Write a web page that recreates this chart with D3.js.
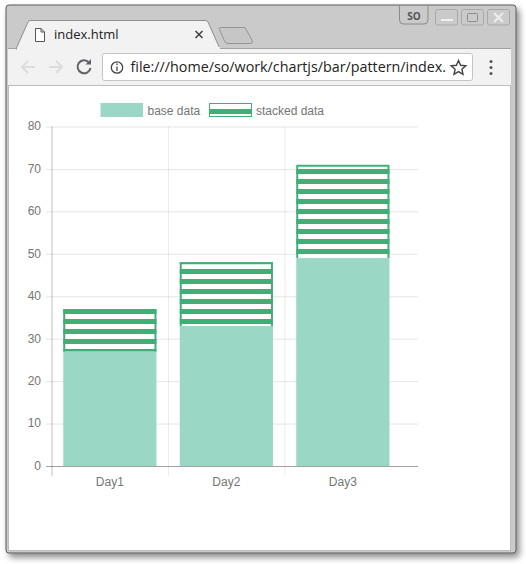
<!DOCTYPE html>
<html>
<head>
<meta charset="utf-8">
<script src="https://cdnjs.cloudflare.com/ajax/libs/d3/7.8.5/d3.min.js"></script>
<style>
html, body { margin: 0; padding: 0; background: #fff; overflow: hidden; }
svg { display: block; }
.chart text { font-family: "Liberation Sans", Arial, sans-serif; font-size: 12px; fill: #757575; }
.ui { font-family: "Open Sans", "Noto Sans", sans-serif; }
</style>
</head>
<body>
<script>
var days = ["Day1", "Day2", "Day3"];
var baseData = [27, 33, 49];
var stackedData = [10, 15, 22];
var legendLabels = ["base data", "stacked data"];
var yTicks = [0, 10, 20, 30, 40, 50, 60, 70, 80];
var pageTitle = "index.html";
var pageUrl = "file:///home/so/work/chartjs/bar/pattern/index.";

var baseColor = "#9bd7c5",
    stackColor = "#41ae76";

var svg = d3.select("body").append("svg")
    .attr("width", 526)
    .attr("height", 564);

var defs = svg.append("defs");

var shadow = defs.append("filter").attr("id", "shadow")
    .attr("x", "-5%").attr("y", "-5%").attr("width", "110%").attr("height", "110%");
shadow.append("feDropShadow")
    .attr("dx", 3).attr("dy", 4).attr("stdDeviation", 3)
    .attr("flood-color", "#000").attr("flood-opacity", 0.45);

// stripes, one fixed 10px grid for every bar
var stripes = defs.append("pattern").attr("id", "stripes")
    .attr("patternUnits", "userSpaceOnUse")
    .attr("width", 10).attr("height", 10)
    .attr("y", 9);
stripes.append("rect").attr("width", 10).attr("height", 10).attr("fill", "#fff");
stripes.append("rect").attr("width", 10).attr("height", 5).attr("fill", stackColor);

var legendStripes = defs.append("pattern").attr("id", "legendStripes")
    .attr("patternUnits", "userSpaceOnUse")
    .attr("width", 10).attr("height", 10)
    .attr("y", 109);
legendStripes.append("rect").attr("width", 10).attr("height", 10).attr("fill", "#fff");
legendStripes.append("rect").attr("width", 10).attr("height", 5).attr("fill", stackColor);

drawWindow();

// chart
var x = d3.scaleBand()
    .domain(days)
    .range([51.6, 401.1])
    .paddingInner(0.2)
    .paddingOuter(0.1);

var y = d3.scaleLinear()
    .domain([0, 80])
    .range([466, 126.5]);

var chart = svg.append("g").attr("class", "chart");

var yAxis = chart.append("g")
    .attr("transform", "translate(52,0)")
    .call(d3.axisLeft(y).tickValues(yTicks).tickSize(6).tickPadding(5).tickFormat(d3.format("d")));
yAxis.select(".domain").remove();
yAxis.selectAll("line").attr("x1", -6).attr("x2", 366)
    .attr("stroke", "#000")
    .attr("stroke-opacity", function(d) { return d === 0 ? 0.36 : 0.1; });
yAxis.selectAll("text").attr("dy", "0.28em");

// vertical grid sits on the band edges
var gridX = [52, 168.5, 285];
chart.append("g").selectAll("line")
    .data(gridX)
    .enter().append("line")
      .attr("x1", function(d) { return d; })
      .attr("x2", function(d) { return d; })
      .attr("y1", 126.5)
      .attr("y2", 476)
      .attr("stroke", "#000")
      .attr("stroke-opacity", function(d, i) { return i === 0 ? 0.25 : 0.07; });

var xAxis = chart.append("g")
    .attr("transform", "translate(0,466)")
    .call(d3.axisBottom(x).tickSize(0).tickPadding(11));
xAxis.select(".domain").remove();

chart.append("g").selectAll("rect")
    .data(days)
    .enter().append("rect")
      .attr("x", function(d) { return x(d); })
      .attr("width", x.bandwidth())
      .attr("y", function(d, i) { return y(baseData[i]); })
      .attr("height", function(d, i) { return y(0) - y(baseData[i]); })
      .attr("fill", baseColor);

chart.append("g").selectAll("rect")
    .data(days)
    .enter().append("rect")
      .attr("x", function(d) { return x(d); })
      .attr("width", x.bandwidth())
      .attr("y", function(d, i) { return y(baseData[i] + stackedData[i]); })
      .attr("height", function(d, i) { return y(0) - y(stackedData[i]); })
      .attr("fill", "url(#stripes)");

// the border skips the bottom edge of the bar
chart.append("g").selectAll("path")
    .data(days)
    .enter().append("path")
      .attr("d", function(d, i) {
        var left = x(d) + 1,
            right = x(d) + x.bandwidth() - 1,
            top = y(baseData[i] + stackedData[i]) + 1,
            bottom = y(baseData[i]);
        return "M" + left + "," + bottom + "L" + left + "," + top + "L" + right + "," + top + "L" + right + "," + bottom;
      })
      .attr("fill", "none")
      .attr("stroke", stackColor)
      .attr("stroke-width", 2);

// legend
var legend = chart.append("g");
legend.append("rect")
    .attr("x", 100.5).attr("y", 103).attr("width", 42.5).attr("height", 14)
    .attr("fill", baseColor);
legend.append("rect")
    .attr("x", 209.5).attr("y", 103.5).attr("width", 42).attr("height", 13)
    .attr("fill", "url(#legendStripes)")
    .attr("stroke", stackColor);
legend.selectAll("text")
    .data(legendLabels)
    .enter().append("text")
      .attr("x", function(d, i) { return i === 0 ? 147.5 : 256; })
      .attr("y", 115)
      .text(function(d) { return d; });

// browser window around the page
function drawWindow() {
  var win = svg.append("g");

  win.append("rect")
      .attr("x", 6).attr("y", 5).attr("width", 510).attr("height", 548).attr("rx", 3)
      .attr("fill", "#cacaca").attr("stroke", "#5a5a5a").attr("filter", "url(#shadow)");

  win.append("rect")
      .attr("x", 8).attr("y", 48).attr("width", 503).attr("height", 37)
      .attr("fill", "#f2f2f2");
  win.append("rect")
      .attr("x", 8.5).attr("y", 85.5).attr("width", 502).attr("height", 465)
      .attr("fill", "#fff").attr("stroke", "#bdbdbd");
  win.append("line")
      .attr("x1", 8).attr("x2", 511).attr("y1", 48.5).attr("y2", 48.5)
      .attr("stroke", "#a3a3a3");

  // tabs
  win.append("path")
      .attr("d", "M16,49 L28,22 Q29,20.5 31,20.5 L205,20.5 Q207,20.5 208,22 L220,49 Z")
      .attr("fill", "#f2f2f2").attr("stroke", "#8f8f8f");
  win.append("rect")
      .attr("x", 17).attr("y", 47).attr("width", 203).attr("height", 3).attr("fill", "#f2f2f2");
  win.append("path")
      .attr("d", "M219,28.5 Q219,27.5 221,27.5 L245,27.5 L252.5,41 Q253,43.5 250,43.5 L228,43.5 Q225.5,43.5 224.5,41 Z")
      .attr("fill", "#c6c6c6").attr("stroke", "#949494");

  // page icon + title + close
  win.append("path")
      .attr("d", "M35.5,28.5 L41,28.5 L44.5,32 L44.5,41.5 L35.5,41.5 Z M41,28.5 L41,32 L44.5,32")
      .attr("fill", "#fff").attr("stroke", "#555");
  win.append("text").attr("class", "ui")
      .attr("x", 54).attr("y", 39).attr("font-size", 13).attr("fill", "#222")
      .text(pageTitle);
  win.append("path")
      .attr("d", "M195.5,31 L202.5,38 M202.5,31 L195.5,38")
      .attr("stroke", "#444").attr("stroke-width", 1.6);

  // window buttons
  win.append("path")
      .attr("d", "M399.5,6 L399.5,20 Q399.5,24 403.5,24 L424,24 Q428,24 428,20 L428,6")
      .attr("fill", "#cacaca").attr("stroke", "#8a8a8a");
  win.append("text").attr("class", "ui")
      .attr("x", 414).attr("y", 19.5).attr("text-anchor", "middle")
      .attr("font-size", 10).attr("font-weight", 700).attr("fill", "#555")
      .text("SO");
  [435.5, 461.5, 487.5].forEach(function(bx) {
    win.append("rect")
        .attr("x", bx).attr("y", 9.5).attr("width", 22).attr("height", 15.5).attr("rx", 2)
        .attr("fill", "#cacaca").attr("stroke", "#a8a8a8");
  });
  win.append("line").attr("x1", 441).attr("x2", 453).attr("y1", 20).attr("y2", 20)
      .attr("stroke", "#f0f0f0").attr("stroke-width", 2);
  win.append("rect").attr("x", 467.5).attr("y", 13.5).attr("width", 10).attr("height", 8).attr("rx", 1)
      .attr("fill", "none").attr("stroke", "#8c8c8c");
  win.append("path").attr("d", "M494,13 L503,22 M503,13 L494,22")
      .attr("stroke", "#ececec").attr("stroke-width", 2.2);

  // toolbar
  win.append("path").attr("d", "M35,67 L22,67 M28,61 L22,67 L28,73")
      .attr("fill", "none").attr("stroke", "#dcdcdc").attr("stroke-width", 2);
  win.append("path").attr("d", "M49,67 L62,67 M56,61 L62,67 L56,73")
      .attr("fill", "none").attr("stroke", "#dcdcdc").attr("stroke-width", 2);
  win.append("path").attr("d", "M89,62.5 A6.5,6.5 0 1 0 90.5,68")
      .attr("fill", "none").attr("stroke", "#5f6368").attr("stroke-width", 2);
  win.append("path").attr("d", "M85.5,64.5 L91,64.5 L91,59 Z").attr("fill", "#5f6368");

  win.append("rect")
      .attr("x", 102.5).attr("y", 53.5).attr("width", 370).attr("height", 27).attr("rx", 2)
      .attr("fill", "#fff").attr("stroke", "#c4c4c4");
  win.append("circle").attr("cx", 117).attr("cy", 67.5).attr("r", 5.7)
      .attr("fill", "none").attr("stroke", "#444").attr("stroke-width", 1.3);
  win.append("path").attr("d", "M117,66.5 L117,71 M117,63.5 L117,65")
      .attr("stroke", "#444").attr("stroke-width", 1.3);
  win.append("text").attr("class", "ui")
      .attr("x", 130.5).attr("y", 72).attr("font-size", 14.3).attr("fill", "#222")
      .text(pageUrl);
  win.append("rect").attr("x", 446).attr("y", 55).attr("width", 26).attr("height", 24).attr("fill", "#fff");
  win.append("path")
      .attr("d", "M458.5,60.5 L460.6,65.3 L465.8,65.8 L461.9,69.2 L463,74.3 L458.5,71.6 L454,74.3 L455.1,69.2 L451.2,65.8 L456.4,65.3 Z")
      .attr("fill", "none").attr("stroke", "#444").attr("stroke-width", 1.4);
  win.selectAll(".dot")
      .data([-6, 0, 6])
      .enter().append("circle")
        .attr("cx", 491).attr("cy", function(d) { return 67.5 + d; }).attr("r", 1.5)
        .attr("fill", "#555");
}
</script>
</body>
</html>
